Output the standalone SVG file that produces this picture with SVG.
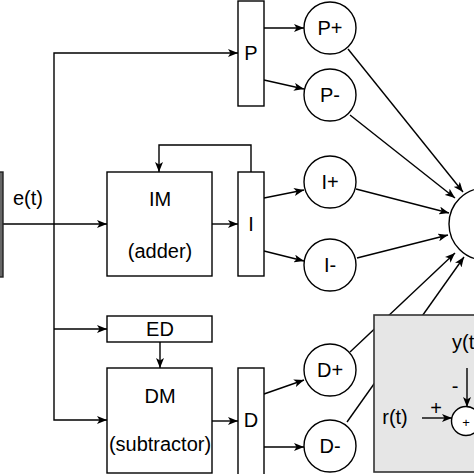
<svg xmlns="http://www.w3.org/2000/svg" width="474" height="474" viewBox="0 0 474 474">
<defs>
<marker id="arr" markerUnits="userSpaceOnUse" markerWidth="11" markerHeight="8" refX="10" refY="4" orient="auto">
<path d="M0,0 L10,4 L0,8 L2.5,4 z" fill="#000"/>
</marker>
<style>
.box{fill:#fff;stroke:#000;stroke-width:1.4}
.c{fill:#fff;stroke:#000;stroke-width:1.4}
.ln{fill:none;stroke:#000;stroke-width:1.4}
.a{marker-end:url(#arr)}
text{font-family:"Liberation Sans",Arial,sans-serif;font-size:20px;fill:#000;text-anchor:middle}
</style>
</defs>
<rect width="474" height="474" fill="#fff"/>

<g id="connectors">
<path class="ln a" d="M3,224 H107"/>
<path class="ln a" d="M54,224 V53 H238"/>
<path class="ln a" d="M54,224 V420 H107"/>
<path class="ln a" d="M54,329 H107"/>
<path class="ln a" d="M160,342 V368"/>
<path class="ln a" d="M212,224 H238"/>
<path class="ln a" d="M251,172 V145 H159 V172"/>
<path class="ln a" d="M212,421 H238"/>
<path class="ln a" d="M264,28 H304"/>
<path class="ln a" d="M264,80 L304,89"/>
<path class="ln a" d="M264,198 L304,190"/>
<path class="ln a" d="M264,251 L304,261"/>
<path class="ln a" d="M264,394 L304,380"/>
<path class="ln a" d="M264,447 H304"/>
<path class="ln a" d="M348,49 L463,192"/>
<path class="ln a" d="M350,115 L455,198"/>
<path class="ln a" d="M356,189 L449,213"/>
<path class="ln a" d="M357,258 L448,235"/>
<path class="ln a" d="M350,352 L455,253"/>
<path class="ln a" d="M347,422 L464,257"/>
</g>

<g id="input">
<rect x="-6" y="172" width="9" height="105" fill="#666" stroke="#222" stroke-width="1.4"/>
<text x="28" y="205">e(t)</text>
</g>

<g id="P"><rect class="box" x="238" y="1" width="26" height="105"/><text x="251" y="60">P</text></g>
<g id="IM"><rect class="box" x="107" y="172" width="105" height="104"/><text x="160" y="206">IM</text><text x="160" y="258">(adder)</text></g>
<g id="I"><rect class="box" x="238" y="172" width="26" height="104"/><text x="251" y="231">I</text></g>
<g id="ED"><rect class="box" x="107" y="316" width="105" height="26"/><text x="160" y="336">ED</text></g>
<g id="DM"><rect class="box" x="107" y="368" width="105" height="105"/><text x="160" y="403">DM</text><text x="160" y="451">(subtractor)</text></g>
<g id="D"><rect class="box" x="238" y="368" width="26" height="110"/><text x="251" y="427">D</text></g>

<g id="Pplus"><circle class="c" cx="330" cy="28" r="26"/><text x="330" y="35">P+</text></g>
<g id="Pminus"><circle class="c" cx="330" cy="95" r="26"/><text x="330" y="102">P-</text></g>
<g id="Iplus"><circle class="c" cx="330" cy="182" r="26"/><text x="330" y="189">I+</text></g>
<g id="Iminus"><circle class="c" cx="330" cy="265" r="26"/><text x="330" y="272">I-</text></g>
<g id="Dplus"><circle class="c" cx="330" cy="370" r="26"/><text x="330" y="377">D+</text></g>
<g id="Dminus"><circle class="c" cx="330" cy="446" r="26"/><text x="330" y="453">D-</text></g>

<g id="sum"><circle class="c" cx="485" cy="224" r="36"/></g>

<g id="errorbox">
<rect x="374" y="315" width="110" height="157" fill="#e6e6e6" stroke="#333" stroke-width="1.6"/>
<text x="452" y="349" style="text-anchor:start">y(t)</text>
<text x="395" y="424">r(t)</text>
<path class="ln a" d="M422,418 H452"/>
<path class="ln a" d="M467,368 V407"/>
<text x="436" y="415">+</text>
<text x="455" y="393">-</text>
<circle cx="466" cy="421" r="14.5" fill="#fff" stroke="#000" stroke-width="1.4"/>
<text x="466" y="427" style="font-size:13px">+</text>
</g>
</svg>
